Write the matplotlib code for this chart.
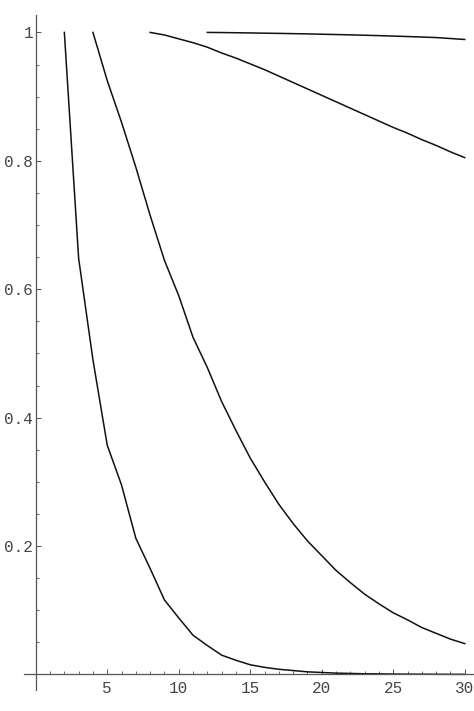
import numpy as np
import matplotlib.pyplot as plt

xa = np.arange(2, 31)
ya = [1.0, 0.648, 0.49, 0.357, 0.295, 0.212, 0.165, 0.116, 0.088, 0.061,
      0.045, 0.030, 0.022, 0.015, 0.011, 0.008, 0.006, 0.004, 0.003, 0.002,
      0.0015, 0.001, 0.0008, 0.0005, 0.0004, 0.0003, 0.0002, 0.0001, 0.0001]

xb = np.arange(4, 31)
yb = [1.0, 0.925, 0.86, 0.79, 0.715, 0.645, 0.59, 0.525, 0.478, 0.425,
      0.38, 0.337, 0.30, 0.265, 0.235, 0.208, 0.185, 0.162, 0.143, 0.125,
      0.11, 0.096, 0.085, 0.073, 0.064, 0.055, 0.048]

xc = np.arange(8, 31)
yc = [1.0, 0.996, 0.99, 0.984, 0.977, 0.968, 0.96, 0.951, 0.942, 0.932,
      0.922, 0.912, 0.902, 0.892, 0.882, 0.872, 0.862, 0.852, 0.843, 0.833,
      0.824, 0.814, 0.805]

xd = np.arange(12, 31)
yd = [1.0, 0.9998, 0.9995, 0.9992, 0.9988, 0.9985, 0.9981, 0.9977, 0.9972,
      0.9967, 0.9962, 0.9956, 0.995, 0.9943, 0.9936, 0.9928, 0.992, 0.9905, 0.989]

xticks = [5, 10, 15, 20, 25, 30]
yticks = [0.2, 0.4, 0.6, 0.8, 1.0]
ylabels = ['0.2', '0.4', '0.6', '0.8', '1']

fig = plt.figure(figsize=(4.74, 7.11), dpi=100)
ax = fig.add_axes([0, 0, 1, 1])

for x, y in [(xa, ya), (xb, yb), (xc, yc), (xd, yd)]:
    ax.plot(x, y, color='#111111', lw=1.1)

ax.set_xlim(-2.5, 30.65)
ax.set_ylim(-0.057, 1.0505)

gray = '#555555'
for s in ['top', 'right']:
    ax.spines[s].set_visible(False)
ax.spines['left'].set_position(('data', 0))
ax.spines['bottom'].set_position(('data', 0))
ax.spines['left'].set_bounds(-0.024, 1.027)
ax.spines['bottom'].set_bounds(-0.82, 30.65)
for s in ['left', 'bottom']:
    ax.spines[s].set_color(gray)
    ax.spines[s].set_linewidth(0.9)

ax.set_xticks(xticks)
ax.set_xticklabels([str(t) for t in xticks])
ax.set_xticks(np.arange(1, 31), minor=True)
ax.set_yticks(yticks)
ax.set_yticklabels(ylabels)
ax.set_yticks(np.arange(0.05, 1.01, 0.05), minor=True)

ax.tick_params(which='major', direction='in', length=3.5, width=0.7,
               color=gray, labelcolor='#444444', labelsize=11.5)
ax.tick_params(axis='x', which='major', pad=5)
ax.tick_params(axis='y', which='major', pad=2)
ax.tick_params(which='minor', direction='in', length=2, width=0.6, color=gray)
for lab in ax.get_xticklabels() + ax.get_yticklabels():
    lab.set_fontfamily('Liberation Mono')

fig.savefig('out.png', dpi=100)
